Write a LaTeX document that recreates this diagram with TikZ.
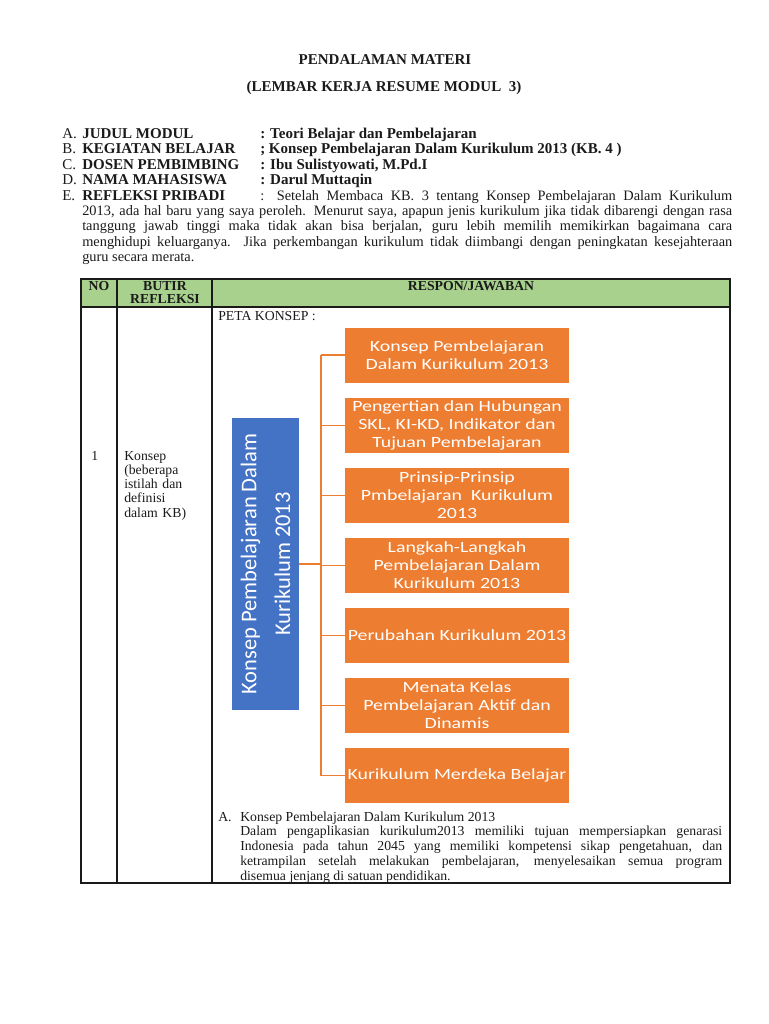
\documentclass[tikz,border=0pt]{standalone}
\usepackage{fontspec}
\setmainfont{Liberation Serif}
\newfontfamily\mapfont[FakeStretch=1.27]{Carlito}
\newfontfamily\titlefont{Carlito}
\usetikzlibrary{positioning}
\definecolor{kborange}{HTML}{ED7D31}
\definecolor{kbblue}{HTML}{4472C4}
\definecolor{kbgreen}{HTML}{A9D18E}
\definecolor{ink}{HTML}{1A1A1A}

\begin{document}
\begin{tikzpicture}[
  x=0.8pt, y=-0.8pt,
  node distance=11.7pt,
  txt/.style={anchor=base west, inner sep=0pt, text=ink, font=\fontsize{11}{12.16}\selectfont},
  txtb/.style={txt, font=\fontsize{12}{12.16}\selectfont\bfseries},
  para/.style={txt, align=justify, font=\fontsize{11.5}{12.16}\selectfont},
  head/.style={inner sep=0pt, text=ink, align=center, font=\fontsize{11}{10.4}\selectfont\bfseries},
  topic/.style={fill=kborange, text=white, align=center, inner sep=0pt, minimum width=179.2pt, minimum height=44pt, font=\fontsize{12.5}{14.4}\mapfont},
  mainbox/.style={fill=kbblue, text=white, align=center, inner sep=0pt, rotate=90, minimum width=233.6pt, minimum height=53.6pt, font=\fontsize{18}{27}\titlefont},
  link/.style={draw=kborange, line width=1pt},
  grid/.style={draw=ink, line width=1pt}
]
\useasboundingbox (0,0) rectangle (768,1024);

% judul
\node[head, anchor=base, font=\fontsize{12}{12}\selectfont\bfseries] (t1) at (385,65) {PENDALAMAN MATERI};
\node[head, anchor=base, font=\fontsize{12}{12}\selectfont\bfseries] (t2) at (384,92) {(LEMBAR KERJA RESUME MODUL~~3)};

% identitas
\node[txt, font=\fontsize{12}{12}\selectfont] (a0) at (62,138.5) {A.};
\node[txtb] (a1) at (82,138.5) {JUDUL MODUL};
\node[txtb] (a2) at (260,138.5) {: Teori Belajar dan Pembelajaran};
\node[txt, font=\fontsize{12}{12}\selectfont] (b0) at (62,154) {B.};
\node[txtb] (b1) at (82,154) {KEGIATAN BELAJAR};
\node[txtb] (b2) at (260,154) {; Konsep Pembelajaran Dalam Kurikulum 2013 (KB. 4 )};
\node[txt, font=\fontsize{12}{12}\selectfont] (c0) at (62,169.5) {C.};
\node[txtb] (c1) at (82,169.5) {DOSEN PEMBIMBING};
\node[txtb] (c2) at (260,169.5) {: Ibu Sulistyowati, M.Pd.I};
\node[txt, font=\fontsize{12}{12}\selectfont] (d0) at (62,185) {D.};
\node[txtb] (d1) at (82,185) {NAMA MAHASISWA};
\node[txtb] (d2) at (260,185) {: Darul Muttaqin};
\node[txt, font=\fontsize{12}{12}\selectfont] (e0) at (62,200.5) {E.};
\node[para, text width=520pt] (e1) at (82,200.5) {\makebox[142.4pt][l]{\fontsize{12}{12}\selectfont\bfseries REFLEKSI PRIBADI}: Setelah Membaca KB. 3 tentang Konsep Pembelajaran Dalam Kurikulum\linebreak 2013, ada hal baru yang saya peroleh. Menurut saya, apapun jenis kurikulum jika tidak dibarengi dengan rasa\linebreak tanggung jawab tinggi maka tidak akan bisa berjalan, guru lebih memilih memikirkan bagaimana cara\linebreak menghidupi keluarganya. Jika perkembangan kurikulum tidak diimbangi dengan peningkatan kesejahteraan\linebreak guru secara merata.};

% tabel
\fill[kbgreen] (81,279) rectangle (730,307);
\draw[grid] (81,279) rectangle (730,883);
\draw[grid] (81,307) -- (730,307);
\draw[grid] (117,279) -- (117,883);
\draw[grid] (212,279) -- (212,883);
\node[head, anchor=base] (h1) at (99,290) {NO};
\node[head] (h2) at (165,292.5) {BUTIR\\REFLEKSI};
\node[head, anchor=base] (h3) at (471,290) {RESPON/JAWABAN};
\node[txt] (n1) at (91,460) {1};
\node[txt, text width=80pt, align=left, font=\fontsize{11}{11.4}\selectfont] (r1) at (124,460) {Konsep\\(beberapa\\istilah dan\\definisi\\dalam KB)};
\node[txt] (pk) at (218,320) {PETA KONSEP :};

% peta konsep
\node[mainbox] (peta) at (265.5,564) {Konsep Pembelajaran Dalam\\Kurikulum 2013};
\node[topic] (k1) at (457,355) {Konsep Pembelajaran\\Dalam Kurikulum 2013};
\node[topic, below=of k1] (k2) {Pengertian dan Hubungan\\SKL, KI-KD, Indikator dan\\Tujuan Pembelajaran};
\node[topic, below=of k2] (k3) {Prinsip-Prinsip\\Pmbelajaran~~Kurikulum\\2013};
\node[topic, below=of k3] (k4) {Langkah-Langkah\\Pembelajaran Dalam\\Kurikulum 2013};
\node[topic, below=of k4] (k5) {Perubahan Kurikulum 2013};
\node[topic, below=of k5] (k6) {Menata Kelas\\Pembelajaran Aktif dan\\Dinamis};
\node[topic, below=of k6] (k7) {Kurikulum Merdeka Belajar};
\coordinate (spine) at (321,564);
\draw[link] (peta.south) -- (spine);
\draw[link] (k1.west -| spine) -- (k7.west -| spine);
\foreach \i in {1,...,7}
  \draw[link] (k\i.west) -- (k\i.west -| spine);

% uraian
\node[txt] (u0) at (218,821) {A.};
\node[para, text width=385.6pt, font=\fontsize{11}{11.85}\selectfont] (u1) at (240,821) {Konsep Pembelajaran Dalam Kurikulum 2013\\Dalam pengaplikasian kurikulum2013 memiliki tujuan mempersiapkan genarasi\linebreak Indonesia pada tahun 2045 yang memiliki kompetensi sikap pengetahuan, dan\linebreak ketrampilan setelah melakukan pembelajaran, menyelesaikan semua program\linebreak disemua jenjang di satuan pendidikan.};
\end{tikzpicture}
\end{document}
